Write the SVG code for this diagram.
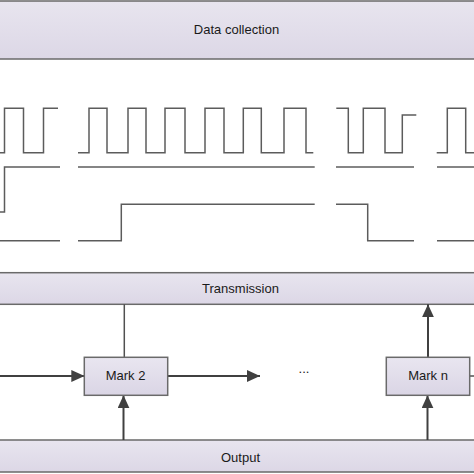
<svg xmlns="http://www.w3.org/2000/svg" width="474" height="474" viewBox="0 0 474 474">
  <style>
    .bar { fill: url(#barFill); stroke: #6a6a6a; stroke-width: 1.5; }
    .box { fill: url(#boxFill); stroke: #6a6a6a; stroke-width: 1.5; }
    .wave { fill: none; stroke: #5c5c5c; stroke-width: 1.5; }
    .lbl { font-family: "Liberation Sans", Arial, sans-serif; font-size: 13px; fill: #1a1a1a; text-anchor: middle; }
    .arr { fill: none; stroke: #404040; stroke-width: 2; }
    .thin { fill: none; stroke: #505050; stroke-width: 1.5; }
  </style>
  <defs>
    <linearGradient id="barFill" x1="0" y1="0" x2="0" y2="1">
      <stop offset="0" stop-color="#e8e5ef"/>
      <stop offset="1" stop-color="#dcd7e6"/>
    </linearGradient>
    <linearGradient id="boxFill" x1="0" y1="0" x2="0" y2="1">
      <stop offset="0" stop-color="#e9e6f0"/>
      <stop offset="1" stop-color="#dad5e5"/>
    </linearGradient>
    <marker id="ah" markerWidth="13" markerHeight="12" refX="13" refY="6" orient="auto" markerUnits="userSpaceOnUse">
      <path d="M0,0 L13,6 L0,12 Z" fill="#404040"/>
    </marker>
  </defs>

  <g id="data-collection">
    <rect class="bar" x="-2" y="1" width="478" height="58"/>
    <text class="lbl" x="236.5" y="34">Data collection</text>
  </g>

  <g id="waveforms">
    <path class="wave" d="M0,152.7 H4.5 V108.3 H23.5 V152.7 H43.5 V108.3 H58"/>
    <path class="wave" d="M78,152.7 H89 V108.3 H107 V152.7 H128 V108.3 H146 V152.7 H165 V108.3 H185 V152.7 H205 V108.3 H224 V152.7 H243.3 V108.3 H261.3 V152.7 H284 V108.3 H306 V152.7 H313.3"/>
    <path class="wave" d="M336.3,108.3 H348.3 V152.7 H363.3 V108.3 H385 V152.7 H402.3 V115 H416.3"/>
    <path class="wave" d="M436.7,152.7 H447.3 V108.3 H465.7 V152.7 H474"/>
    <path class="wave" d="M0,212 H4.5 V167 H60"/>
    <path class="wave" d="M78,167 H314.7"/>
    <path class="wave" d="M336,167 H414"/>
    <path class="wave" d="M437,167 H474"/>
    <path class="wave" d="M0,240.7 H60"/>
    <path class="wave" d="M78,240.7 H121.3 V204.3 H314.7"/>
    <path class="wave" d="M336,204.3 H367.7 V240.7 H414"/>
    <path class="wave" d="M437,240.7 H474"/>
  </g>

  <g id="transmission">
    <rect class="bar" x="-2" y="272.7" width="478" height="31.6"/>
    <text class="lbl" x="240.5" y="292.5">Transmission</text>
  </g>

  <g id="output">
    <rect class="bar" x="-2" y="440" width="478" height="32"/>
    <text class="lbl" x="240.5" y="461.5">Output</text>
  </g>

  <g id="connectors">
    <line class="thin" x1="124.3" y1="304.3" x2="124.3" y2="357.3"/>
    <line class="arr" x1="0" y1="376" x2="84.3" y2="376" marker-end="url(#ah)"/>
    <line class="arr" x1="167.7" y1="376" x2="260" y2="376" marker-end="url(#ah)"/>
    <line class="arr" x1="123.5" y1="440" x2="123.5" y2="395.3" marker-end="url(#ah)"/>
    <line class="arr" x1="428" y1="357.3" x2="428" y2="304.3" marker-end="url(#ah)"/>
    <line class="arr" x1="427.5" y1="440" x2="427.5" y2="395.3" marker-end="url(#ah)"/>
    <line class="thin" x1="469.7" y1="376" x2="474" y2="376"/>
  </g>

  <g id="mark-2">
    <rect class="box" x="84.3" y="357.3" width="83.4" height="38"/>
    <text class="lbl" x="125.5" y="380">Mark 2</text>
  </g>

  <g id="ellipsis">
    <text class="lbl" x="304" y="373">...</text>
  </g>

  <g id="mark-n">
    <rect class="box" x="386.3" y="357.3" width="83.4" height="38"/>
    <text class="lbl" x="428" y="380">Mark n</text>
  </g>
</svg>
